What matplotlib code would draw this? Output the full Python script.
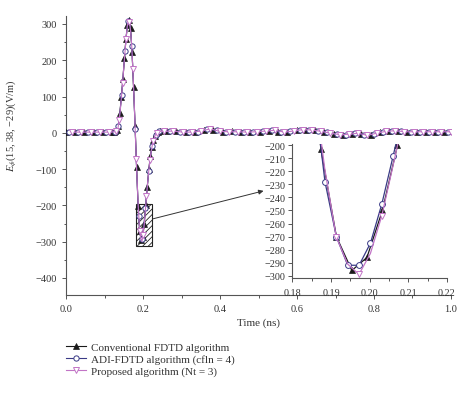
import matplotlib
matplotlib.use("Agg")
import matplotlib.pyplot as plt
from matplotlib.patches import Rectangle
from matplotlib.ticker import MultipleLocator

plt.rcParams['font.family'] = ['Liberation Serif', 'DejaVu Serif']
plt.rcParams['mathtext.fontset'] = 'stix'
plt.rcParams['hatch.linewidth'] = 0.6

# ---------------- data ----------------
labels = ["Conventional FDTD algorithm",
          "ADI-FDTD algorithm (cfln = 4)",
          "Proposed algorithm (Nt = 3)"]

conv_pre_t = [0.000, 0.024, 0.048, 0.072, 0.096, 0.1201, 0.1241]
conv_pre_v = [2, 2, 2, 2, 2, 2, 3]
conv_pulse_t = [0.1280, 0.1320, 0.1359, 0.1399, 0.1438, 0.1478, 0.1518, 0.1557, 0.1597, 0.1636,
                0.1676, 0.1716, 0.1755, 0.1795, 0.1834, 0.1874, 0.1914, 0.1954, 0.1993, 0.2033,
                0.2072, 0.2112, 0.2152, 0.2191, 0.2231, 0.2270, 0.2310, 0.2350, 0.2389, 0.2429]
conv_pulse_v = [4, 8, 18, 55, 100, 148, 205, 258, 298, 312,
                288, 222, 125, 18, -95, -203, -270, -296, -286, -250,
                -200, -148, -100, -63, -38, -20, -8, 0, 3, 4]
conv_tail_t = [0.263, 0.287, 0.311, 0.335, 0.359, 0.383, 0.407, 0.431, 0.455, 0.479, 0.503,
               0.527, 0.551, 0.575, 0.599, 0.623, 0.647, 0.671, 0.695, 0.719, 0.743, 0.767,
               0.791, 0.815, 0.839, 0.863, 0.887, 0.911, 0.935, 0.959, 0.983]
conv_tail_v = [4, 4, 1, 2, 8, 9, 3, 4, 3, 3, 3,
               6, 3, 2, 7, 9, 7, 3, -2, -6, -2, -3,
               -6, 1, 6, 5, 3, 3, 3, 3, 3]

adi_pre_t = [0.008, 0.032, 0.056, 0.080, 0.104]
adi_pre_v = [2, 2, 2, 2, 2]
adi_pulse_t = [0.12671, 0.12965, 0.13259, 0.13553, 0.13847, 0.14141, 0.14435, 0.14729, 0.15023, 0.15317,
               0.15611, 0.15905, 0.16199, 0.16493, 0.16787, 0.17081, 0.17375, 0.17669, 0.17963, 0.18257,
               0.18551, 0.18845, 0.19139, 0.19433, 0.19727, 0.20021, 0.20315, 0.20609, 0.20903, 0.21197,
               0.21491, 0.21785, 0.22079, 0.22373, 0.22667, 0.22961, 0.23255, 0.23549, 0.23843, 0.24137]
adi_pulse_v = [3, 4, 8, 18, 40, 70, 105, 140, 185, 225,
               262, 295, 308, 305, 282, 238, 172, 95, 10, -75,
               -155, -228, -270, -292, -292, -275, -245, -208, -170, -138,
               -106, -77, -56, -36, -22, -12, -5, 0, 3, 4]
adi_tail_t = [0.271, 0.295, 0.319, 0.343, 0.367, 0.391, 0.415, 0.439, 0.463, 0.487, 0.511,
              0.535, 0.559, 0.583, 0.607, 0.631, 0.655, 0.679, 0.703, 0.727, 0.751, 0.775,
              0.799, 0.823, 0.847, 0.871, 0.895, 0.919, 0.943, 0.967, 0.991]
adi_tail_v = [4, 3, 1, 3, 10, 7, 3, 3, 2, 3, 4,
              7, 1, 4, 8, 9, 6, 1, -4, -5, -1, -6,
              -3, 3, 6, 4, 3, 3, 3, 3, 3]

prop_pre_t = [0.016, 0.040, 0.064, 0.088, 0.112]
prop_pre_v = [2, 2, 2, 2, 2]
prop_pulse_t = [0.12644, 0.12939, 0.13234, 0.13529, 0.13824, 0.14119, 0.14414, 0.14709, 0.15004, 0.15299,
                0.15594, 0.15889, 0.16184, 0.16479, 0.16774, 0.17069, 0.17364, 0.17659, 0.17954, 0.18249,
                0.18544, 0.18839, 0.19134, 0.19429, 0.19724, 0.20019, 0.20314, 0.20609, 0.20904, 0.21199,
                0.21494, 0.21789, 0.22084, 0.22379, 0.22674, 0.22969, 0.23264, 0.23559, 0.23854, 0.24149]
prop_pulse_v = [3, 4, 7, 15, 35, 65, 100, 138, 180, 220,
                258, 292, 307, 306, 282, 240, 175, 100, 15, -72,
                -150, -218, -270, -291, -299, -283, -254, -215, -175, -138,
                -105, -76, -54, -36, -22, -12, -5, 0, 3, 4]
prop_tail_t = [0.255, 0.279, 0.303, 0.327, 0.351, 0.375, 0.399, 0.423, 0.447, 0.471, 0.495,
               0.519, 0.543, 0.567, 0.591, 0.615, 0.639, 0.663, 0.687, 0.711, 0.735, 0.759,
               0.783, 0.807, 0.831, 0.855, 0.879, 0.903, 0.927, 0.951, 0.975, 0.999]
prop_tail_v = [4, 5, 2, 2, 5, 11, 4, 3, 3, 2, 3,
               5, 7, 2, 5, 9, 8, 4, -1, -5, -4, -1,
               -7, -1, 4, 6, 3, 3, 3, 3, 3, 3]

x_ticks = [0.0, 0.2, 0.4, 0.6, 0.8, 1.0]
y_ticks = [300, 200, 100, 0, -100, -200, -300, -400]
inset_x_ticks = [0.18, 0.19, 0.20, 0.21, 0.22]
inset_y_ticks = [-200, -210, -220, -230, -240, -250, -260, -270, -280, -290, -300]

# ---------------- styles ----------------
C_CONV = '#1a1a1a'
C_ADI = '#3a3a86'
C_PROP = '#c274c6'
TXT = '#333333'


def join(a, b, c):
    return list(a) + list(b) + list(c)


def marks(n_pre, n_pulse, n_tail, step, offset=0):
    idx = list(range(n_pre))
    idx += [n_pre + i for i in range(n_pulse) if i % step == offset]
    idx += [n_pre + n_pulse + i for i in range(n_tail)]
    return idx


conv_t = join(conv_pre_t, conv_pulse_t, conv_tail_t)
conv_v = join(conv_pre_v, conv_pulse_v, conv_tail_v)
adi_t = join(adi_pre_t, adi_pulse_t, adi_tail_t)
adi_v = join(adi_pre_v, adi_pulse_v, adi_tail_v)
prop_t = join(prop_pre_t, prop_pulse_t, prop_tail_t)
prop_v = join(prop_pre_v, prop_pulse_v, prop_tail_v)

adi_main_marks = marks(len(adi_pre_t), len(adi_pulse_t), len(adi_tail_t), 3, 0)
prop_main_marks = marks(len(prop_pre_t), len(prop_pulse_t), len(prop_tail_t), 3, 1)
prop_inset_marks = marks(len(prop_pre_t), len(prop_pulse_t), len(prop_tail_t), 2, 0)

fig = plt.figure(figsize=(4.74, 4.02), dpi=100)
ax = fig.add_axes([66 / 474, 1 - 296 / 402, 385 / 474, 279 / 402])


def style_axes(a, fs):
    for s in ('top', 'right'):
        a.spines[s].set_visible(False)
    for s in ('left', 'bottom'):
        a.spines[s].set_color('#555555')
        a.spines[s].set_linewidth(0.8)
    a.tick_params(which='both', direction='out', colors='#555555', labelcolor=TXT,
                  labelsize=fs, width=0.7)
    a.tick_params(which='major', length=3.2)
    a.tick_params(which='minor', length=1.8)


l1, = ax.plot(conv_t, conv_v, color=C_CONV, lw=0.8, marker='^', ms=5.0,
              mfc=C_CONV, mec=C_CONV, mew=0.5, zorder=3)
l2, = ax.plot(adi_t, adi_v, color=C_ADI, lw=0.8, marker='o', ms=3.8,
              mfc='white', mec=C_ADI, mew=0.7, markevery=adi_main_marks, zorder=4)
l3, = ax.plot(prop_t, prop_v, color=C_PROP, lw=0.8, marker='v', ms=4.6,
              mfc='white', mec=C_PROP, mew=0.7, markevery=prop_main_marks, zorder=5)

ax.set_xlim(0.0, 1.0)
ax.set_ylim(-447, 322)
ax.set_xticks(x_ticks)
ax.set_yticks(y_ticks)
ax.xaxis.set_minor_locator(MultipleLocator(0.1))
ax.yaxis.set_minor_locator(MultipleLocator(50))
ax.set_xticklabels([f"{v:.1f}" for v in x_ticks])
style_axes(ax, 7.5)
ax.set_xlabel("Time (ns)", fontsize=8, color=TXT, labelpad=3)
ax.set_ylabel(r"$E_{\phi}$(15, 38, −29)(V/m)", fontsize=7.5, color=TXT)
ax.yaxis.set_label_coords(-0.125, 0.61)

# hatched zoom box and arrow
rect = Rectangle((0.182, -311), 0.042, 115, facecolor='white', edgecolor='#222222',
                 hatch='//////', lw=0.8, zorder=1.5)
ax.add_patch(rect)
ax.annotate("", xy=(0.513, -160), xytext=(0.226, -237),
            arrowprops=dict(arrowstyle='-|>', color='#333333', lw=0.7,
                            mutation_scale=7, shrinkA=0, shrinkB=0), zorder=6)

# inset
ins = fig.add_axes([292.3 / 474, 1 - 279.3 / 402, (447 - 292.3) / 474, (279.3 - 145) / 402])
ins.plot(conv_t, conv_v, color=C_CONV, lw=0.9, marker='^', ms=5.0,
         mfc=C_CONV, mec=C_CONV, mew=0.5, zorder=3)
ins.plot(adi_t, adi_v, color=C_ADI, lw=0.9, marker='o', ms=4.2,
         mfc='white', mec=C_ADI, mew=0.7, zorder=4)
ins.plot(prop_t, prop_v, color=C_PROP, lw=0.9, marker='v', ms=4.6,
         mfc='white', mec=C_PROP, mew=0.7, markevery=prop_inset_marks, zorder=5)
ins.set_xlim(0.18, 0.22)
ins.set_ylim(-302, -199)
ins.set_xticks(inset_x_ticks)
ins.set_yticks(inset_y_ticks)
ins.set_xticklabels([f"{v:.2f}" for v in inset_x_ticks])
ins.xaxis.set_minor_locator(MultipleLocator(0.005))
style_axes(ins, 7.3)
ins.tick_params(axis='y', pad=1.5)

fig.legend([l1, l2, l3], labels, loc='upper left',
           bbox_to_anchor=(66 / 474, 1 - 343 / 402), frameon=False,
           fontsize=8, handlelength=1.8, handletextpad=0.45, labelspacing=0.2,
           borderpad=0, borderaxespad=0, numpoints=1, labelcolor=TXT)

fig.savefig("out.png", dpi=100)
